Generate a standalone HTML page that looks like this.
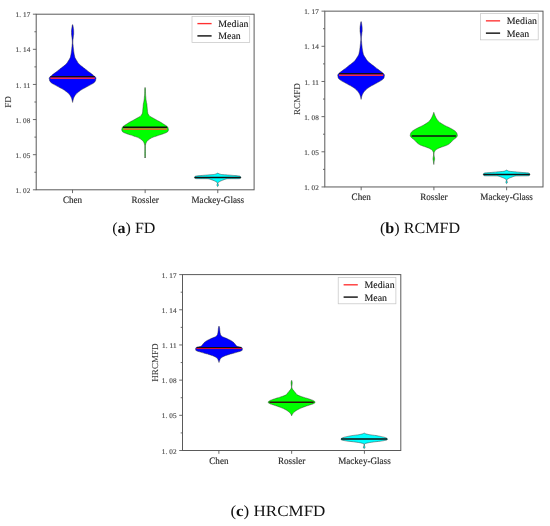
<!DOCTYPE html>
<html><head><meta charset="utf-8"><title>Violin plots</title>
<style>
html,body{margin:0;padding:0;background:#fff;}
svg{display:block;}
text{font-family:"Liberation Serif","Times New Roman",serif;text-rendering:geometricPrecision;}
.yt{font-size:7.2px;fill:#444;stroke:#555;stroke-width:0.15px;letter-spacing:0.1px;}
.xt{font-size:9.1px;fill:#222;stroke:#333;stroke-width:0.15px;}
.yl{font-size:9.1px;fill:#3a3a3a;stroke:#444;stroke-width:0.12px;}
.lg{font-size:9.9px;fill:#151515;stroke:#222;stroke-width:0.12px;}
.cap{font-size:15.5px;fill:#111;}
</style></head><body>
<svg width="550" height="526" viewBox="0 0 550 526">
<rect width="550" height="526" fill="#fff"/>
<rect x="36.2" y="14.2" width="217.9" height="175.6" fill="none" stroke="#5a5a5a" stroke-width="1"/>
<line x1="32.9" y1="14.2" x2="36.2" y2="14.2" stroke="#5a5a5a" stroke-width="0.9"/>
<text x="30.4" y="17.3" class="yt" text-anchor="end">1. 17</text>
<line x1="34.4" y1="31.76" x2="36.2" y2="31.76" stroke="#5a5a5a" stroke-width="0.9"/>
<line x1="32.9" y1="49.32" x2="36.2" y2="49.32" stroke="#5a5a5a" stroke-width="0.9"/>
<text x="30.4" y="52.42" class="yt" text-anchor="end">1. 14</text>
<line x1="34.4" y1="66.88" x2="36.2" y2="66.88" stroke="#5a5a5a" stroke-width="0.9"/>
<line x1="32.9" y1="84.44" x2="36.2" y2="84.44" stroke="#5a5a5a" stroke-width="0.9"/>
<text x="30.4" y="87.54" class="yt" text-anchor="end">1. 11</text>
<line x1="34.4" y1="102" x2="36.2" y2="102" stroke="#5a5a5a" stroke-width="0.9"/>
<line x1="32.9" y1="119.56" x2="36.2" y2="119.56" stroke="#5a5a5a" stroke-width="0.9"/>
<text x="30.4" y="122.66" class="yt" text-anchor="end">1. 08</text>
<line x1="34.4" y1="137.12" x2="36.2" y2="137.12" stroke="#5a5a5a" stroke-width="0.9"/>
<line x1="32.9" y1="154.68" x2="36.2" y2="154.68" stroke="#5a5a5a" stroke-width="0.9"/>
<text x="30.4" y="157.78" class="yt" text-anchor="end">1. 05</text>
<line x1="34.4" y1="172.24" x2="36.2" y2="172.24" stroke="#5a5a5a" stroke-width="0.9"/>
<line x1="32.9" y1="189.8" x2="36.2" y2="189.8" stroke="#5a5a5a" stroke-width="0.9"/>
<text x="30.4" y="192.9" class="yt" text-anchor="end">1. 02</text>
<line x1="72.52" y1="189.8" x2="72.52" y2="193.1" stroke="#5a5a5a" stroke-width="0.9"/>
<text transform="translate(72.52 203) scale(1 1.07)" class="xt" text-anchor="middle">Chen</text>
<line x1="145.15" y1="189.8" x2="145.15" y2="193.1" stroke="#5a5a5a" stroke-width="0.9"/>
<text transform="translate(145.15 203) scale(1 1.07)" class="xt" text-anchor="middle">Rossler</text>
<line x1="217.78" y1="189.8" x2="217.78" y2="193.1" stroke="#5a5a5a" stroke-width="0.9"/>
<text transform="translate(217.78 203) scale(1 1.07)" class="xt" text-anchor="middle">Mackey-Glass</text>
<text transform="translate(11.2 102) rotate(-90)" class="yl" text-anchor="middle">FD</text>
<rect x="192" y="16.4" width="57.7" height="26.2" fill="#fff" stroke="#c4c4c4" stroke-width="0.7"/>
<line x1="197.4" y1="23.6" x2="211.6" y2="23.6" stroke="#ff3030" stroke-width="1.35"/>
<line x1="197.4" y1="35.9" x2="211.6" y2="35.9" stroke="#1c1c1c" stroke-width="1.5"/>
<text x="218.3" y="27" class="lg">Median</text>
<text x="218.3" y="39.4" class="lg">Mean</text>
<path d="M72.6 24.55C72.8 25.38 72.83 24.42 73.2 27.05C73.57 29.68 73.67 29.12 73.7 32.45C73.73 35.78 73.57 33.98 73.3 37.05C73.03 40.12 72.97 38.98 72.9 41.65C72.83 44.32 72.92 42.78 73.1 45.05C73.28 47.32 73.18 46.05 73.45 48.45C73.72 50.85 73.52 49.72 73.9 52.25C74.28 54.78 74.17 54.12 74.6 56.05C75.03 57.98 74.43 56.43 75.2 58.05C75.97 59.67 75.67 59 76.9 60.9C78.13 62.8 77.17 61.85 78.9 63.75C80.63 65.65 79.8 64.7 82.1 66.6C84.4 68.5 83.33 67.53 85.8 69.45C88.27 71.37 87.03 70.45 89.5 72.35C91.97 74.25 91.4 73.75 93.2 75.15C95 76.55 94 75.58 94.9 76.55C95.8 77.52 95.6 77.18 95.9 78.05C96.2 78.92 95.97 78.18 95.8 79.15C95.63 80.12 96 79.78 95.4 80.95C94.8 82.12 95.33 81.52 94 82.65C92.67 83.78 93.3 83.22 91.4 84.35C89.5 85.48 90.37 84.92 88.3 86.05C86.23 87.18 87.3 86.62 85.2 87.75C83.1 88.88 83.9 88.32 82 89.45C80.1 90.58 81 90.02 79.5 91.15C78 92.28 78.73 91.72 77.5 92.85C76.27 93.98 76.77 93.38 75.8 94.55C74.83 95.72 75.28 95.18 74.6 96.35C73.92 97.52 74.22 96.92 73.75 98.05C73.28 99.18 73.58 98.28 73.2 99.75C72.82 101.22 72.8 101.55 72.6 102.45C72.4 101.55 72.38 101.22 72 99.75C71.62 98.28 71.92 99.18 71.45 98.05C70.98 96.92 71.28 97.52 70.6 96.35C69.92 95.18 70.37 95.72 69.4 94.55C68.43 93.38 68.93 93.98 67.7 92.85C66.47 91.72 67.2 92.28 65.7 91.15C64.2 90.02 65.1 90.58 63.2 89.45C61.3 88.32 62.1 88.88 60 87.75C57.9 86.62 58.97 87.18 56.9 86.05C54.83 84.92 55.7 85.48 53.8 84.35C51.9 83.22 52.53 83.78 51.2 82.65C49.87 81.52 50.4 82.12 49.8 80.95C49.2 79.78 49.57 80.12 49.4 79.15C49.23 78.18 49 78.92 49.3 78.05C49.6 77.18 49.4 77.52 50.3 76.55C51.2 75.58 50.2 76.55 52 75.15C53.8 73.75 53.23 74.25 55.7 72.35C58.17 70.45 56.93 71.37 59.4 69.45C61.87 67.53 60.8 68.5 63.1 66.6C65.4 64.7 64.57 65.65 66.3 63.75C68.03 61.85 67.07 62.8 68.3 60.9C69.53 59 69.23 59.67 70 58.05C70.77 56.43 70.17 57.98 70.6 56.05C71.03 54.12 70.92 54.78 71.3 52.25C71.68 49.72 71.48 50.85 71.75 48.45C72.02 46.05 71.92 47.32 72.1 45.05C72.28 42.78 72.37 44.32 72.3 41.65C72.23 38.98 72.17 40.12 71.9 37.05C71.63 33.98 71.47 35.78 71.5 32.45C71.53 29.12 71.63 29.68 72 27.05C72.37 24.42 72.4 25.38 72.6 24.55Z" fill="#0000ff" stroke="#2a2a2a" stroke-width="0.45" stroke-linejoin="round"/>
<path d="M145.1 87.4C145.22 87.93 145.3 87 145.45 89C145.6 91 145.43 90.73 145.55 93.4C145.67 96.07 145.57 94.47 145.8 97C146.03 99.53 145.9 98.67 146.25 101C146.6 103.33 146.57 102.05 146.85 104C147.13 105.95 146.92 104.95 147.1 106.85C147.28 108.75 147.2 107.8 147.4 109.7C147.6 111.6 147.4 111.02 147.7 112.55C148 114.08 147.83 113.35 148.3 114.3C148.77 115.25 148.27 114.57 149.1 115.4C149.93 116.23 149.37 115.85 150.8 116.8C152.23 117.75 151.67 117.28 153.4 118.25C155.13 119.22 154.3 118.75 156 119.7C157.7 120.65 156.8 120.17 158.5 121.1C160.2 122.03 159.47 121.53 161.1 122.5C162.73 123.47 161.87 123.03 163.4 124C164.93 124.97 164.37 124.47 165.7 125.4C167.03 126.33 166.57 125.77 167.4 126.8C168.23 127.83 167.87 127.53 168.2 128.5C168.53 129.47 168.53 128.73 168.4 129.7C168.27 130.67 168.53 130.43 167.8 131.4C167.07 132.37 167.67 131.83 166.2 132.6C164.73 133.37 165.47 132.95 163.4 133.7C161.33 134.45 162.27 134.08 160 134.85C157.73 135.62 158.8 135.25 156.6 136C154.4 136.75 155.33 136.33 153.4 137.1C151.47 137.87 152.23 137.53 150.8 138.3C149.37 139.07 150.13 138.65 149.1 139.4C148.07 140.15 148.58 139.58 147.7 140.55C146.82 141.52 147.08 141.15 146.45 142.3C145.82 143.45 146.13 142.68 145.8 144C145.47 145.32 145.57 142.25 145.45 146.25C145.33 150.25 145.57 152.42 145.45 156C145.33 159.58 145.22 156.67 145.1 157C144.98 156.67 144.87 159.58 144.75 156C144.63 152.42 144.87 150.25 144.75 146.25C144.63 142.25 144.73 145.32 144.4 144C144.07 142.68 144.38 143.45 143.75 142.3C143.12 141.15 143.38 141.52 142.5 140.55C141.62 139.58 142.13 140.15 141.1 139.4C140.07 138.65 140.83 139.07 139.4 138.3C137.97 137.53 138.73 137.87 136.8 137.1C134.87 136.33 135.8 136.75 133.6 136C131.4 135.25 132.47 135.62 130.2 134.85C127.93 134.08 128.87 134.45 126.8 133.7C124.73 132.95 125.47 133.37 124 132.6C122.53 131.83 123.13 132.37 122.4 131.4C121.67 130.43 121.93 130.67 121.8 129.7C121.67 128.73 121.67 129.47 122 128.5C122.33 127.53 121.97 127.83 122.8 126.8C123.63 125.77 123.17 126.33 124.5 125.4C125.83 124.47 125.27 124.97 126.8 124C128.33 123.03 127.47 123.47 129.1 122.5C130.73 121.53 130 122.03 131.7 121.1C133.4 120.17 132.5 120.65 134.2 119.7C135.9 118.75 135.07 119.22 136.8 118.25C138.53 117.28 137.97 117.75 139.4 116.8C140.83 115.85 140.27 116.23 141.1 115.4C141.93 114.57 141.43 115.25 141.9 114.3C142.37 113.35 142.2 114.08 142.5 112.55C142.8 111.02 142.6 111.6 142.8 109.7C143 107.8 142.92 108.75 143.1 106.85C143.28 104.95 143.07 105.95 143.35 104C143.63 102.05 143.6 103.33 143.95 101C144.3 98.67 144.17 99.53 144.4 97C144.63 94.47 144.53 96.07 144.65 93.4C144.77 90.73 144.6 91 144.75 89C144.9 87 144.98 87.93 145.1 87.4Z" fill="#00ff00" stroke="#2a2a2a" stroke-width="0.45" stroke-linejoin="round"/>
<path d="M217.7 173.1C217.82 173.16 218.5 173.55 218.9 173.7C219.3 173.84 220.85 174.43 221.7 174.55C222.55 174.68 226.09 174.85 227.4 174.95C228.71 175.05 233.57 175.44 234.8 175.55C236.03 175.67 239.09 175.91 239.7 176.1C240.31 176.28 240.84 177.18 240.9 177.4C240.96 177.62 240.52 178.17 240.3 178.3C240.08 178.43 239.99 178.66 238.7 178.7C237.41 178.74 228.87 178.65 227.4 178.75C225.93 178.85 224.62 179.49 224 179.7C223.38 179.91 221.66 180.57 221.15 180.8C220.64 181.03 219.21 181.8 218.9 182C218.58 182.2 218.09 182.63 218 182.8C217.91 182.97 217.92 183.55 217.95 183.7C217.98 183.85 218.25 184.15 218.3 184.3C218.34 184.45 218.4 185.03 218.4 185.2C218.4 185.37 218.37 185.86 218.3 186C218.23 186.14 217.76 186.54 217.7 186.6C217.64 186.54 217.17 186.14 217.1 186C217.03 185.86 217 185.37 217 185.2C217 185.03 217.06 184.45 217.1 184.3C217.14 184.15 217.42 183.85 217.45 183.7C217.48 183.55 217.49 182.97 217.4 182.8C217.3 182.63 216.81 182.2 216.5 182C216.19 181.8 214.76 181.03 214.25 180.8C213.74 180.57 212.02 179.91 211.4 179.7C210.77 179.49 209.47 178.85 208 178.75C206.53 178.65 197.99 178.74 196.7 178.7C195.41 178.66 195.32 178.43 195.1 178.3C194.88 178.17 194.44 177.62 194.5 177.4C194.56 177.18 195.09 176.28 195.7 176.1C196.31 175.91 199.37 175.67 200.6 175.55C201.83 175.44 206.69 175.05 208 174.95C209.31 174.85 212.85 174.68 213.7 174.55C214.55 174.43 216.1 173.84 216.5 173.7C216.9 173.55 217.58 173.16 217.7 173.1Z" fill="#00ffff" stroke="#2a2a2a" stroke-width="0.45" stroke-linejoin="round"/>
<line x1="50.4" y1="78.1" x2="94.8" y2="78.1" stroke="#f02a58" stroke-width="1.8"/>
<line x1="50.5" y1="76.6" x2="94.7" y2="76.6" stroke="#111" stroke-width="1.2"/>
<line x1="123.3" y1="129.05" x2="166.9" y2="129.05" stroke="#cc7a28" stroke-width="1.7"/>
<line x1="123" y1="127.2" x2="167.2" y2="127.2" stroke="#111" stroke-width="1.6"/>
<line x1="194.5" y1="177.55" x2="240.9" y2="177.55" stroke="#111" stroke-width="1.5"/>
<rect x="324.8" y="11.15" width="218.2" height="175.8" fill="none" stroke="#5a5a5a" stroke-width="1"/>
<line x1="321.5" y1="11.15" x2="324.8" y2="11.15" stroke="#5a5a5a" stroke-width="0.9"/>
<text x="319" y="14.25" class="yt" text-anchor="end">1. 17</text>
<line x1="323" y1="28.73" x2="324.8" y2="28.73" stroke="#5a5a5a" stroke-width="0.9"/>
<line x1="321.5" y1="46.31" x2="324.8" y2="46.31" stroke="#5a5a5a" stroke-width="0.9"/>
<text x="319" y="49.41" class="yt" text-anchor="end">1. 14</text>
<line x1="323" y1="63.89" x2="324.8" y2="63.89" stroke="#5a5a5a" stroke-width="0.9"/>
<line x1="321.5" y1="81.47" x2="324.8" y2="81.47" stroke="#5a5a5a" stroke-width="0.9"/>
<text x="319" y="84.57" class="yt" text-anchor="end">1. 11</text>
<line x1="323" y1="99.05" x2="324.8" y2="99.05" stroke="#5a5a5a" stroke-width="0.9"/>
<line x1="321.5" y1="116.63" x2="324.8" y2="116.63" stroke="#5a5a5a" stroke-width="0.9"/>
<text x="319" y="119.73" class="yt" text-anchor="end">1. 08</text>
<line x1="323" y1="134.21" x2="324.8" y2="134.21" stroke="#5a5a5a" stroke-width="0.9"/>
<line x1="321.5" y1="151.79" x2="324.8" y2="151.79" stroke="#5a5a5a" stroke-width="0.9"/>
<text x="319" y="154.89" class="yt" text-anchor="end">1. 05</text>
<line x1="323" y1="169.37" x2="324.8" y2="169.37" stroke="#5a5a5a" stroke-width="0.9"/>
<line x1="321.5" y1="186.95" x2="324.8" y2="186.95" stroke="#5a5a5a" stroke-width="0.9"/>
<text x="319" y="190.05" class="yt" text-anchor="end">1. 02</text>
<line x1="361.17" y1="186.95" x2="361.17" y2="190.25" stroke="#5a5a5a" stroke-width="0.9"/>
<text transform="translate(361.17 200.15) scale(1 1.07)" class="xt" text-anchor="middle">Chen</text>
<line x1="433.9" y1="186.95" x2="433.9" y2="190.25" stroke="#5a5a5a" stroke-width="0.9"/>
<text transform="translate(433.9 200.15) scale(1 1.07)" class="xt" text-anchor="middle">Rossler</text>
<line x1="506.63" y1="186.95" x2="506.63" y2="190.25" stroke="#5a5a5a" stroke-width="0.9"/>
<text transform="translate(506.63 200.15) scale(1 1.07)" class="xt" text-anchor="middle">Mackey-Glass</text>
<text transform="translate(299.8 99.05) rotate(-90)" class="yl" text-anchor="middle">RCMFD</text>
<rect x="480.5" y="13.65" width="57.7" height="26.2" fill="#fff" stroke="#c4c4c4" stroke-width="0.7"/>
<line x1="485.9" y1="20.85" x2="500.1" y2="20.85" stroke="#ff3030" stroke-width="1.35"/>
<line x1="485.9" y1="33.15" x2="500.1" y2="33.15" stroke="#1c1c1c" stroke-width="1.5"/>
<text x="506.8" y="24.25" class="lg">Median</text>
<text x="506.8" y="36.65" class="lg">Mean</text>
<path d="M361.1 21.5C361.3 22.33 361.33 21.37 361.7 24C362.07 26.63 362.17 26.07 362.2 29.4C362.23 32.73 362.07 30.93 361.8 34C361.53 37.07 361.47 35.93 361.4 38.6C361.33 41.27 361.42 39.73 361.6 42C361.78 44.27 361.68 43 361.95 45.4C362.22 47.8 362.02 46.67 362.4 49.2C362.78 51.73 362.67 51.07 363.1 53C363.53 54.93 362.93 53.38 363.7 55C364.47 56.62 364.17 55.95 365.4 57.85C366.63 59.75 365.67 58.8 367.4 60.7C369.13 62.6 368.3 61.65 370.6 63.55C372.9 65.45 371.83 64.48 374.3 66.4C376.77 68.32 375.53 67.4 378 69.3C380.47 71.2 379.9 70.7 381.7 72.1C383.5 73.5 382.5 72.53 383.4 73.5C384.3 74.47 384.1 74.13 384.4 75C384.7 75.87 384.47 75.13 384.3 76.1C384.13 77.07 384.5 76.73 383.9 77.9C383.3 79.07 383.83 78.47 382.5 79.6C381.17 80.73 381.8 80.17 379.9 81.3C378 82.43 378.87 81.87 376.8 83C374.73 84.13 375.8 83.57 373.7 84.7C371.6 85.83 372.4 85.27 370.5 86.4C368.6 87.53 369.5 86.97 368 88.1C366.5 89.23 367.23 88.67 366 89.8C364.77 90.93 365.27 90.33 364.3 91.5C363.33 92.67 363.78 92.13 363.1 93.3C362.42 94.47 362.72 93.87 362.25 95C361.78 96.13 362.08 95.23 361.7 96.7C361.32 98.17 361.3 98.5 361.1 99.4C360.9 98.5 360.88 98.17 360.5 96.7C360.12 95.23 360.42 96.13 359.95 95C359.48 93.87 359.78 94.47 359.1 93.3C358.42 92.13 358.87 92.67 357.9 91.5C356.93 90.33 357.43 90.93 356.2 89.8C354.97 88.67 355.7 89.23 354.2 88.1C352.7 86.97 353.6 87.53 351.7 86.4C349.8 85.27 350.6 85.83 348.5 84.7C346.4 83.57 347.47 84.13 345.4 83C343.33 81.87 344.2 82.43 342.3 81.3C340.4 80.17 341.03 80.73 339.7 79.6C338.37 78.47 338.9 79.07 338.3 77.9C337.7 76.73 338.07 77.07 337.9 76.1C337.73 75.13 337.5 75.87 337.8 75C338.1 74.13 337.9 74.47 338.8 73.5C339.7 72.53 338.7 73.5 340.5 72.1C342.3 70.7 341.73 71.2 344.2 69.3C346.67 67.4 345.43 68.32 347.9 66.4C350.37 64.48 349.3 65.45 351.6 63.55C353.9 61.65 353.07 62.6 354.8 60.7C356.53 58.8 355.57 59.75 356.8 57.85C358.03 55.95 357.73 56.62 358.5 55C359.27 53.38 358.67 54.93 359.1 53C359.53 51.07 359.42 51.73 359.8 49.2C360.18 46.67 359.98 47.8 360.25 45.4C360.52 43 360.42 44.27 360.6 42C360.78 39.73 360.87 41.27 360.8 38.6C360.73 35.93 360.67 37.07 360.4 34C360.13 30.93 359.97 32.73 360 29.4C360.03 26.07 360.13 26.63 360.5 24C360.87 21.37 360.9 22.33 361.1 21.5Z" fill="#0000ff" stroke="#2a2a2a" stroke-width="0.45" stroke-linejoin="round"/>
<path d="M433.8 112.3C434.07 113.05 434.1 113.22 434.6 114.55C435.1 115.88 434.8 115.15 435.3 116.3C435.8 117.45 435.47 116.87 436.1 118C436.73 119.13 436.33 118.57 437.2 119.7C438.07 120.83 437.63 120.37 438.7 121.4C439.77 122.43 439.07 121.85 440.4 122.8C441.73 123.75 441.1 123.28 442.7 124.25C444.3 125.22 443.4 124.75 445.2 125.7C447 126.65 446.2 126.17 448.1 127.1C450 128.03 449.1 127.53 450.9 128.5C452.7 129.47 451.97 129.03 453.5 130C455.03 130.97 454.47 130.47 455.5 131.4C456.53 132.33 456.03 131.77 456.6 132.8C457.17 133.83 457 133.43 457.2 134.5C457.4 135.57 457.5 135.03 457.2 136C456.9 136.97 457.17 136.45 456.3 137.4C455.43 138.35 455.73 137.88 454.6 138.85C453.47 139.82 453.93 139.35 452.9 140.3C451.87 141.25 452.43 140.77 451.5 141.7C450.57 142.63 451.23 142.15 450.1 143.1C448.97 144.05 449.9 143.58 448.1 144.55C446.3 145.52 447.17 145.05 444.7 146C442.23 146.95 443.1 146.47 440.7 147.4C438.3 148.33 439.23 147.83 437.5 148.8C435.77 149.77 436.5 149.33 435.5 150.3C434.5 151.27 434.97 150.77 434.5 151.7C434.03 152.63 434.23 151.87 434.1 153.1C433.97 154.33 434.02 154.1 434.1 155.4C434.18 156.7 434.18 155.87 434.35 157C434.52 158.13 434.6 157.63 434.6 158.8C434.6 159.97 434.52 159.43 434.35 160.5C434.18 161.57 434.28 160.67 434.1 162C433.92 163.33 433.9 163.67 433.8 164.5C433.7 163.67 433.68 163.33 433.5 162C433.32 160.67 433.42 161.57 433.25 160.5C433.08 159.43 433 159.97 433 158.8C433 157.63 433.08 158.13 433.25 157C433.42 155.87 433.42 156.7 433.5 155.4C433.58 154.1 433.63 154.33 433.5 153.1C433.37 151.87 433.57 152.63 433.1 151.7C432.63 150.77 433.1 151.27 432.1 150.3C431.1 149.33 431.83 149.77 430.1 148.8C428.37 147.83 429.3 148.33 426.9 147.4C424.5 146.47 425.37 146.95 422.9 146C420.43 145.05 421.3 145.52 419.5 144.55C417.7 143.58 418.63 144.05 417.5 143.1C416.37 142.15 417.03 142.63 416.1 141.7C415.17 140.77 415.73 141.25 414.7 140.3C413.67 139.35 414.13 139.82 413 138.85C411.87 137.88 412.17 138.35 411.3 137.4C410.43 136.45 410.7 136.97 410.4 136C410.1 135.03 410.2 135.57 410.4 134.5C410.6 133.43 410.43 133.83 411 132.8C411.57 131.77 411.07 132.33 412.1 131.4C413.13 130.47 412.57 130.97 414.1 130C415.63 129.03 414.9 129.47 416.7 128.5C418.5 127.53 417.6 128.03 419.5 127.1C421.4 126.17 420.6 126.65 422.4 125.7C424.2 124.75 423.3 125.22 424.9 124.25C426.5 123.28 425.87 123.75 427.2 122.8C428.53 121.85 427.83 122.43 428.9 121.4C429.97 120.37 429.53 120.83 430.4 119.7C431.27 118.57 430.87 119.13 431.5 118C432.13 116.87 431.8 117.45 432.3 116.3C432.8 115.15 432.5 115.88 433 114.55C433.5 113.22 433.53 113.05 433.8 112.3Z" fill="#00ff00" stroke="#2a2a2a" stroke-width="0.45" stroke-linejoin="round"/>
<path d="M506.6 170.1C506.72 170.16 507.52 170.58 507.8 170.7C508.08 170.82 508.56 171.18 509.4 171.3C510.24 171.43 514.78 171.82 516.2 171.95C517.62 172.08 522.34 172.48 523.6 172.6C524.86 172.72 528.17 172.93 528.8 173.1C529.43 173.27 529.84 174.08 529.9 174.3C529.96 174.52 529.58 175.15 529.4 175.3C529.22 175.45 529.47 175.74 528.1 175.8C526.73 175.87 517.29 175.83 515.7 175.95C514.11 176.07 512.83 176.78 512.2 177C511.57 177.22 509.85 177.9 509.4 178.1C508.95 178.3 507.95 178.83 507.7 179C507.45 179.17 506.99 179.6 506.9 179.8C506.82 180 506.82 180.82 506.85 181C506.88 181.18 507.16 181.46 507.2 181.6C507.25 181.74 507.3 182.25 507.3 182.4C507.3 182.55 507.27 182.98 507.2 183.1C507.13 183.22 506.66 183.55 506.6 183.6C506.54 183.55 506.07 183.22 506 183.1C505.93 182.98 505.9 182.55 505.9 182.4C505.9 182.25 505.95 181.74 506 181.6C506.05 181.46 506.32 181.18 506.35 181C506.38 180.82 506.38 180 506.3 179.8C506.22 179.6 505.75 179.17 505.5 179C505.25 178.83 504.25 178.3 503.8 178.1C503.35 177.9 501.63 177.22 501 177C500.37 176.78 499.09 176.07 497.5 175.95C495.91 175.83 486.47 175.87 485.1 175.8C483.73 175.74 483.98 175.45 483.8 175.3C483.62 175.15 483.24 174.52 483.3 174.3C483.36 174.08 483.77 173.27 484.4 173.1C485.03 172.93 488.34 172.72 489.6 172.6C490.86 172.48 495.58 172.08 497 171.95C498.42 171.82 502.96 171.43 503.8 171.3C504.64 171.18 505.12 170.82 505.4 170.7C505.68 170.58 506.48 170.16 506.6 170.1Z" fill="#00ffff" stroke="#2a2a2a" stroke-width="0.45" stroke-linejoin="round"/>
<line x1="339" y1="75.1" x2="383.2" y2="75.1" stroke="#f02a58" stroke-width="1.8"/>
<line x1="339.1" y1="73.6" x2="383.1" y2="73.6" stroke="#111" stroke-width="1.2"/>
<line x1="411.7" y1="135.9" x2="455.9" y2="135.9" stroke="#111" stroke-width="1.5"/>
<line x1="483.3" y1="174.55" x2="529.9" y2="174.55" stroke="#111" stroke-width="1.5"/>
<rect x="182.5" y="274.6" width="218.3" height="175.9" fill="none" stroke="#5a5a5a" stroke-width="1"/>
<line x1="179.2" y1="274.6" x2="182.5" y2="274.6" stroke="#5a5a5a" stroke-width="0.9"/>
<text x="176.7" y="277.7" class="yt" text-anchor="end">1. 17</text>
<line x1="180.7" y1="292.19" x2="182.5" y2="292.19" stroke="#5a5a5a" stroke-width="0.9"/>
<line x1="179.2" y1="309.78" x2="182.5" y2="309.78" stroke="#5a5a5a" stroke-width="0.9"/>
<text x="176.7" y="312.88" class="yt" text-anchor="end">1. 14</text>
<line x1="180.7" y1="327.37" x2="182.5" y2="327.37" stroke="#5a5a5a" stroke-width="0.9"/>
<line x1="179.2" y1="344.96" x2="182.5" y2="344.96" stroke="#5a5a5a" stroke-width="0.9"/>
<text x="176.7" y="348.06" class="yt" text-anchor="end">1. 11</text>
<line x1="180.7" y1="362.55" x2="182.5" y2="362.55" stroke="#5a5a5a" stroke-width="0.9"/>
<line x1="179.2" y1="380.14" x2="182.5" y2="380.14" stroke="#5a5a5a" stroke-width="0.9"/>
<text x="176.7" y="383.24" class="yt" text-anchor="end">1. 08</text>
<line x1="180.7" y1="397.73" x2="182.5" y2="397.73" stroke="#5a5a5a" stroke-width="0.9"/>
<line x1="179.2" y1="415.32" x2="182.5" y2="415.32" stroke="#5a5a5a" stroke-width="0.9"/>
<text x="176.7" y="418.42" class="yt" text-anchor="end">1. 05</text>
<line x1="180.7" y1="432.91" x2="182.5" y2="432.91" stroke="#5a5a5a" stroke-width="0.9"/>
<line x1="179.2" y1="450.5" x2="182.5" y2="450.5" stroke="#5a5a5a" stroke-width="0.9"/>
<text x="176.7" y="453.6" class="yt" text-anchor="end">1. 02</text>
<line x1="218.88" y1="450.5" x2="218.88" y2="453.8" stroke="#5a5a5a" stroke-width="0.9"/>
<text transform="translate(218.88 463.7) scale(1 1.07)" class="xt" text-anchor="middle">Chen</text>
<line x1="291.65" y1="450.5" x2="291.65" y2="453.8" stroke="#5a5a5a" stroke-width="0.9"/>
<text transform="translate(291.65 463.7) scale(1 1.07)" class="xt" text-anchor="middle">Rossler</text>
<line x1="364.42" y1="450.5" x2="364.42" y2="453.8" stroke="#5a5a5a" stroke-width="0.9"/>
<text transform="translate(364.42 463.7) scale(1 1.07)" class="xt" text-anchor="middle">Mackey-Glass</text>
<text transform="translate(157.5 362.55) rotate(-90)" class="yl" text-anchor="middle">HRCMFD</text>
<rect x="338.2" y="277.6" width="57.7" height="26.2" fill="#fff" stroke="#c4c4c4" stroke-width="0.7"/>
<line x1="343.6" y1="284.8" x2="357.8" y2="284.8" stroke="#ff3030" stroke-width="1.35"/>
<line x1="343.6" y1="297.1" x2="357.8" y2="297.1" stroke="#1c1c1c" stroke-width="1.5"/>
<text x="364.5" y="288.2" class="lg">Median</text>
<text x="364.5" y="300.6" class="lg">Mean</text>
<path d="M219 326.1C219.18 326.68 219.27 326.32 219.55 327.85C219.83 329.38 219.6 328.8 219.85 330.7C220.1 332.6 219.93 332.02 220.3 333.55C220.67 335.08 220.35 334.35 220.95 335.3C221.55 336.25 221.15 335.73 222.1 336.4C223.05 337.07 222.57 336.73 223.8 337.3C225.03 337.87 224.27 337.43 225.8 338.1C227.33 338.77 226.6 338.43 228.4 339.3C230.2 340.17 229.6 339.77 231.2 340.7C232.8 341.63 232.07 341.17 233.2 342.1C234.33 343.03 233.73 342.53 234.6 343.5C235.47 344.47 235.03 344.13 235.8 345C236.57 345.87 235.77 345.5 236.9 346.1C238.03 346.7 237.67 346.37 239.2 346.8C240.73 347.23 240.47 346.87 241.5 347.4C242.53 347.93 242.03 347.7 242.3 348.4C242.57 349.1 242.57 348.73 242.3 349.5C242.03 350.27 243.1 349.83 241.5 350.7C239.9 351.57 240.47 351.17 237.5 352.1C234.53 353.03 235.63 352.63 232.6 353.5C229.57 354.37 231.33 353.73 228.4 354.7C225.47 355.67 226.3 355.2 223.8 356.4C221.3 357.6 222.23 357 220.9 358.3C219.57 359.6 220.43 358.9 219.8 360.3C219.17 361.7 219.27 361.77 219 362.5C218.73 361.77 218.83 361.7 218.2 360.3C217.57 358.9 218.43 359.6 217.1 358.3C215.77 357 216.7 357.6 214.2 356.4C211.7 355.2 212.53 355.67 209.6 354.7C206.67 353.73 208.43 354.37 205.4 353.5C202.37 352.63 203.47 353.03 200.5 352.1C197.53 351.17 198.1 351.57 196.5 350.7C194.9 349.83 195.97 350.27 195.7 349.5C195.43 348.73 195.43 349.1 195.7 348.4C195.97 347.7 195.47 347.93 196.5 347.4C197.53 346.87 197.27 347.23 198.8 346.8C200.33 346.37 199.97 346.7 201.1 346.1C202.23 345.5 201.43 345.87 202.2 345C202.97 344.13 202.53 344.47 203.4 343.5C204.27 342.53 203.67 343.03 204.8 342.1C205.93 341.17 205.2 341.63 206.8 340.7C208.4 339.77 207.8 340.17 209.6 339.3C211.4 338.43 210.67 338.77 212.2 338.1C213.73 337.43 212.97 337.87 214.2 337.3C215.43 336.73 214.95 337.07 215.9 336.4C216.85 335.73 216.45 336.25 217.05 335.3C217.65 334.35 217.33 335.08 217.7 333.55C218.07 332.02 217.9 332.6 218.15 330.7C218.4 328.8 218.17 329.38 218.45 327.85C218.73 326.32 218.82 326.68 219 326.1Z" fill="#0000ff" stroke="#2a2a2a" stroke-width="0.45" stroke-linejoin="round"/>
<path d="M291.65 380.3C291.78 380.7 291.87 380.57 292.05 381.5C292.23 382.43 292.2 381.93 292.2 383.1C292.2 384.27 292.17 383.67 292.05 385C291.93 386.33 291.75 385.82 291.85 387.1C291.95 388.38 291.82 387.78 292.35 388.85C292.88 389.92 292.72 389.35 293.45 390.3C294.18 391.25 293.78 390.77 294.55 391.7C295.32 392.63 295.08 392.25 295.75 393.1C296.42 393.95 295.88 393.58 296.55 394.25C297.22 394.92 296.42 394.43 297.75 395.1C299.08 395.77 298.48 395.48 300.55 396.25C302.62 397.02 301.58 396.65 303.95 397.4C306.32 398.15 305.25 397.73 307.65 398.5C310.05 399.27 309.15 398.93 311.15 399.7C313.15 400.47 312.38 399.97 313.65 400.8C314.92 401.63 314.92 401.3 314.95 402.2C314.98 403.1 315.52 402.57 313.75 403.5C311.98 404.43 312.42 404.03 309.65 405C306.88 405.97 308.1 405.47 305.45 406.4C302.8 407.33 304 406.85 301.7 407.8C299.4 408.75 300.45 408.28 298.55 409.25C296.65 410.22 297.43 409.75 296 410.7C294.57 411.65 295.3 411.17 294.25 412.1C293.2 413.03 293.55 412.63 292.85 413.5C292.15 414.37 292.55 413.93 292.15 414.7C291.75 415.47 291.82 415.43 291.65 415.8C291.48 415.43 291.55 415.47 291.15 414.7C290.75 413.93 291.15 414.37 290.45 413.5C289.75 412.63 290.1 413.03 289.05 412.1C288 411.17 288.73 411.65 287.3 410.7C285.87 409.75 286.65 410.22 284.75 409.25C282.85 408.28 283.9 408.75 281.6 407.8C279.3 406.85 280.5 407.33 277.85 406.4C275.2 405.47 276.42 405.97 273.65 405C270.88 404.03 271.32 404.43 269.55 403.5C267.78 402.57 268.32 403.1 268.35 402.2C268.38 401.3 268.38 401.63 269.65 400.8C270.92 399.97 270.15 400.47 272.15 399.7C274.15 398.93 273.25 399.27 275.65 398.5C278.05 397.73 276.98 398.15 279.35 397.4C281.72 396.65 280.68 397.02 282.75 396.25C284.82 395.48 284.22 395.77 285.55 395.1C286.88 394.43 286.08 394.92 286.75 394.25C287.42 393.58 286.88 393.95 287.55 393.1C288.22 392.25 287.98 392.63 288.75 391.7C289.52 390.77 289.12 391.25 289.85 390.3C290.58 389.35 290.42 389.92 290.95 388.85C291.48 387.78 291.35 388.38 291.45 387.1C291.55 385.82 291.37 386.33 291.25 385C291.13 383.67 291.1 384.27 291.1 383.1C291.1 381.93 291.07 382.43 291.25 381.5C291.43 380.57 291.52 380.7 291.65 380.3Z" fill="#00ff00" stroke="#2a2a2a" stroke-width="0.45" stroke-linejoin="round"/>
<path d="M364.2 433C364.36 433.08 365.25 433.68 365.8 433.85C366.35 434.02 368.68 434.53 369.7 434.7C370.72 434.87 374.91 435.38 376 435.55C377.09 435.72 379.77 436.23 380.6 436.4C381.43 436.57 383.7 437.08 384.3 437.25C384.9 437.42 386.28 437.91 386.6 438.1C386.92 438.29 387.5 438.95 387.5 439.15C387.5 439.35 387.18 439.92 386.6 440.1C386.02 440.29 382.87 440.83 381.7 441C380.53 441.17 376.21 441.63 374.9 441.8C373.59 441.97 369.57 442.53 368.6 442.7C367.63 442.87 365.62 443.36 365.2 443.5C364.78 443.64 364.52 443.84 364.45 444.1C364.38 444.36 364.4 445.85 364.45 446.1C364.5 446.35 364.84 446.47 364.9 446.6C364.95 446.73 365 447.25 365 447.4C365 447.55 364.93 447.98 364.85 448.1C364.77 448.22 364.26 448.55 364.2 448.6C364.13 448.55 363.63 448.22 363.55 448.1C363.47 447.98 363.4 447.55 363.4 447.4C363.39 447.25 363.44 446.73 363.5 446.6C363.56 446.47 363.9 446.35 363.95 446.1C364 445.85 364.02 444.36 363.95 444.1C363.88 443.84 363.62 443.64 363.2 443.5C362.78 443.36 360.77 442.87 359.8 442.7C358.83 442.53 354.81 441.97 353.5 441.8C352.19 441.63 347.87 441.17 346.7 441C345.53 440.83 342.38 440.29 341.8 440.1C341.22 439.92 340.9 439.35 340.9 439.15C340.9 438.95 341.48 438.29 341.8 438.1C342.12 437.91 343.5 437.42 344.1 437.25C344.7 437.08 346.97 436.57 347.8 436.4C348.63 436.23 351.31 435.72 352.4 435.55C353.49 435.38 357.68 434.87 358.7 434.7C359.72 434.53 362.05 434.02 362.6 433.85C363.15 433.68 364.04 433.08 364.2 433Z" fill="#00ffff" stroke="#2a2a2a" stroke-width="0.45" stroke-linejoin="round"/>
<line x1="196.4" y1="348.55" x2="241.6" y2="348.55" stroke="#e8102a" stroke-width="1.0"/>
<line x1="196.7" y1="347.5" x2="241.3" y2="347.5" stroke="#111" stroke-width="1.15"/>
<line x1="269.45" y1="402.3" x2="313.65" y2="402.3" stroke="#30100a" stroke-width="1.4"/>
<line x1="341.2" y1="438.9" x2="387.2" y2="438.9" stroke="#111" stroke-width="1.5"/>
<text x="112.2" y="232.7" class="cap" textLength="43.2" lengthAdjust="spacingAndGlyphs">(<tspan font-weight="bold">a</tspan>) FD</text>
<text x="380" y="232.5" class="cap" textLength="80" lengthAdjust="spacingAndGlyphs">(<tspan font-weight="bold">b</tspan>) RCMFD</text>
<text x="230.4" y="516.4" class="cap" textLength="95" lengthAdjust="spacingAndGlyphs">(<tspan font-weight="bold">c</tspan>) HRCMFD</text>
</svg>
</body></html>
